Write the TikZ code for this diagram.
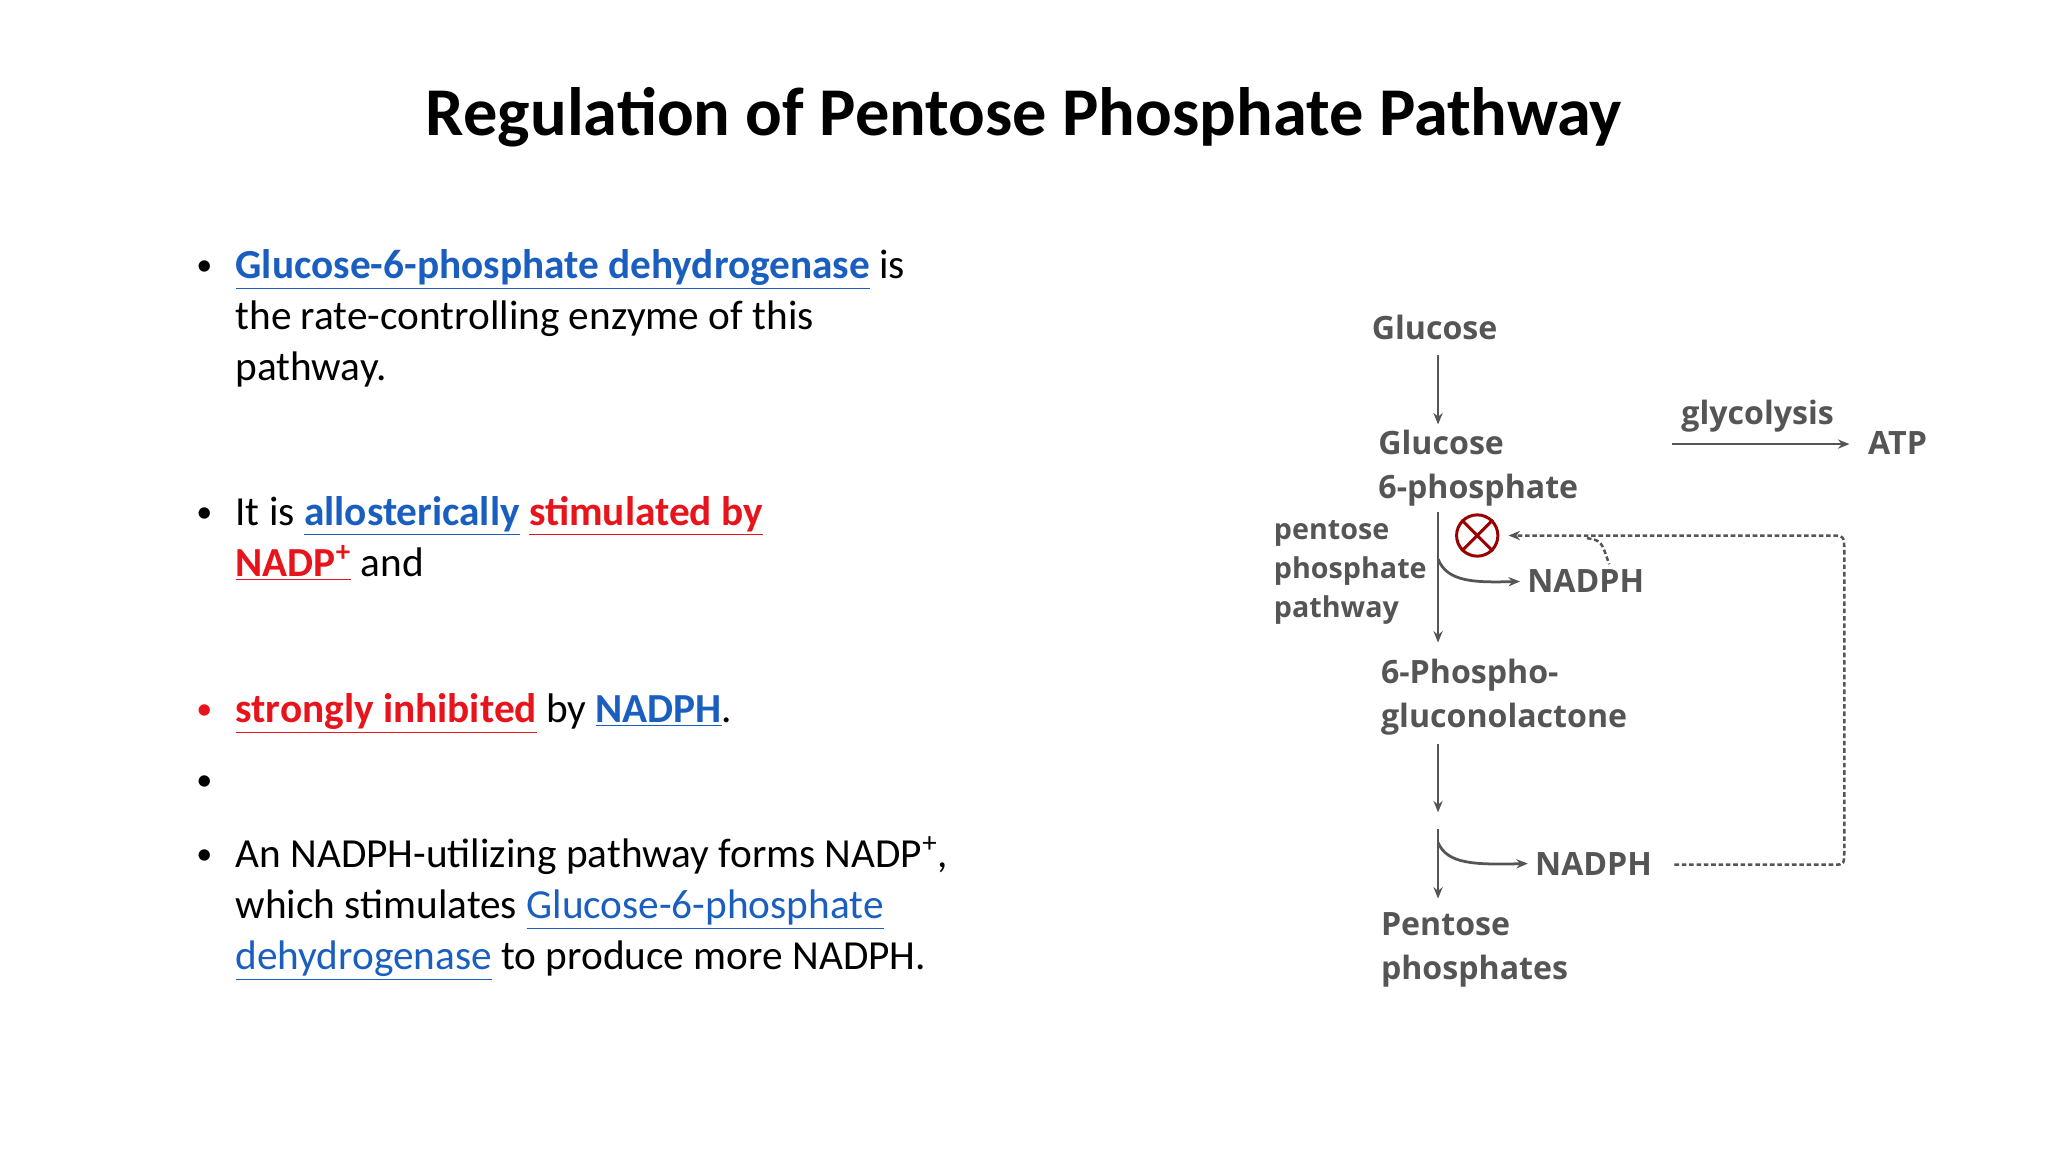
\documentclass[tikz,border=0pt]{standalone}
\usepackage{fontspec}
\setmainfont{Carlito}
\newfontfamily\dfont{Open Sans}
\usetikzlibrary{arrows.meta}
\definecolor{lblue}{HTML}{1A5FBF}
\definecolor{lred}{HTML}{E8141C}
\definecolor{dgray}{HTML}{555555}
\tikzset{
 txt/.style={anchor=base west,inner sep=0pt,font=\fontsize{18}{21}\selectfont},
 bul/.style={anchor=base west,inner sep=0pt,font=\fontsize{14}{21}\selectfont},
 dg/.style={anchor=base west,inner sep=0pt,text=dgray,font=\dfont\bfseries\fontsize{14}{16}\selectfont},
 dgs/.style={anchor=base west,inner sep=0pt,text=dgray,font=\dfont\bfseries\fontsize{12.5}{14}\selectfont},
 ar/.style={draw=dgray,line width=1.2pt,-{Stealth[length=5pt,width=4pt]}},
 da/.style={draw=dgray,line width=1.1pt,dash pattern=on 2pt off 1.2pt}
}
\newcommand{\bl}[1]{{\color{lblue}$\underline{\hbox{#1}}$}}
\newcommand{\rd}[1]{{\color{lred}$\underline{\hbox{#1}}$}}
\begin{document}
\begin{tikzpicture}[x=0.02cm,y=-0.02cm]
\useasboundingbox (0,0) rectangle (1568,882);
\fill[white] (0,0) rectangle (1568,882);
\node[anchor=base,inner sep=0pt,font=\bfseries\fontsize{29.8}{34}\selectfont] (title) at (784,104) {Regulation of Pentose Phosphate Pathway};
% bullets
\node[bul] (b1) at (150,211) {•};
\node[txt] (l1) at (180,213) {\bl{\textbf{Glucose-6-phosphate dehydrogenase}} is};
\node[txt] (l2) at (180,252) {the rate-controlling enzyme of this};
\node[txt] (l3) at (180,291) {pathway.};
\node[bul] (b2) at (150,400) {•};
\node[txt] (l4) at (180,402) {It is \bl{\textbf{allosterically}} \rd{\textbf{stimulated by}}};
\node[txt] (l5) at (180,441) {\rd{\textbf{NADP\textsuperscript{+}}} and};
\node[bul,text=lred] (b3) at (150,551) {•};
\node[txt] (l6) at (180,553) {\rd{\textbf{strongly inhibited}} by \bl{\textbf{NADPH}}.};
\node[bul] (b4) at (150,605) {•};
\node[bul] (b5) at (150,662) {•};
\node[txt] (l7) at (180,664) {An NADPH-utilizing pathway forms NADP\textsuperscript{+},};
\node[txt] (l8) at (180,703) {which stimulates \bl{Glucose-6-phosphate}};
\node[txt] (l9) at (180,742) {\bl{dehydrogenase} to produce more NADPH.};
% diagram
\node[dg] (glc) at (1050,260) {Glucose};
\node[dg] (g6p1) at (1055,348) {Glucose};
\node[dg] (g6p2) at (1055,382) {6-phosphate};
\node[dg] (gly) at (1287,325) {glycolysis};
\node[dg] (atp) at (1430,348) {ATP};
\node[dgs] (pp1) at (975,413) {pentose};
\node[dgs] (pp2) at (975,443) {phosphate};
\node[dgs] (pp3) at (975,473) {pathway};
\node[dg] (nadph1) at (1169,454) {NADPH};
\node[dg] (pg1) at (1057,523) {6-Phospho-};
\node[dg] (pg2) at (1057,557) {gluconolactone};
\node[dg] (nadph2) at (1175,670) {NADPH};
\node[dg] (pp4) at (1057,716) {Pentose};
\node[dg] (pp5) at (1057,750) {phosphates};
\coordinate (a1) at (1101,272); \coordinate (a2) at (1101,325);
\draw[ar] (a1) -- (a2);
\coordinate (g1) at (1280,340); \coordinate (g2) at (1416,340);
\draw[ar] (g1) -- (g2);
\coordinate (v1) at (1101,392); \coordinate (v2) at (1101,492);
\draw[ar] (v1) -- (v2);
\coordinate (c1) at (1101,428);
\draw[ar] (c1) .. controls (1108,446) and (1130,446) .. ([xshift=-3pt]nadph1.west);
\node[draw=red!60!black,line width=1.3pt,circle,minimum size=18pt,inner sep=0pt] (inh) at (1131,410) {};
\draw[red!60!black,line width=1.3pt] (inh.north west) -- (inh.south east) (inh.north east) -- (inh.south west);
\coordinate (v3) at (1101,570); \coordinate (v4) at (1101,622);
\draw[ar] (v3) -- (v4);
\coordinate (v5) at (1101,635); \coordinate (v6) at (1101,688);
\draw[ar] (v5) -- (v6);
\coordinate (c2) at (1101,645);
\draw[ar] (c2) .. controls (1108,662) and (1130,662) .. ([xshift=-3pt]nadph2.west);
\coordinate (d0) at (1282,662);
\coordinate (d1) at (1404,662);
\draw[da,-{Stealth[length=5pt,width=4pt]}] (d0) -- (d1) .. controls (1412,662) .. (1412,650) -- (1412,422) .. controls (1412,410) .. (1400,410) -- ([xshift=4pt]inh.east);
\coordinate (h1) at (1215,412); \coordinate (h2) at (1232,432);
\draw[da] (h1) .. controls (1226,414) .. (h2);
\end{tikzpicture}
\end{document}
